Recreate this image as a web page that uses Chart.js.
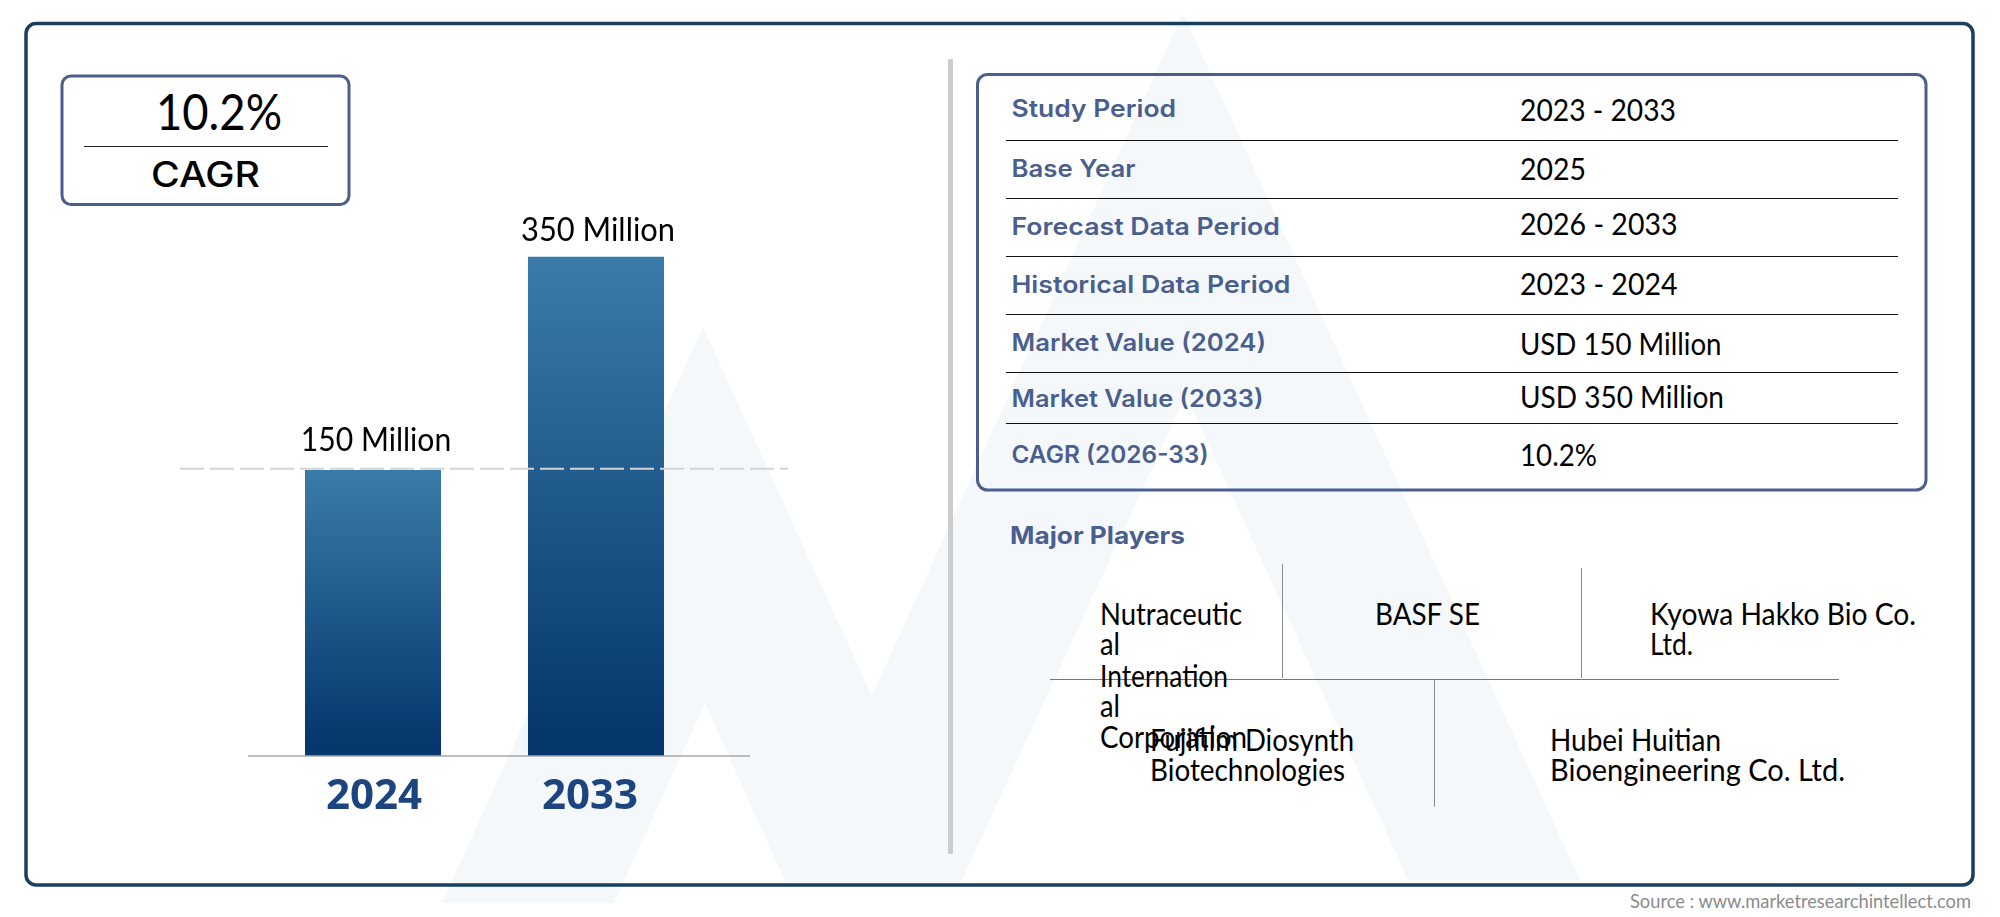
<!DOCTYPE html>
<html><head><meta charset="utf-8">
<script src="https://cdn.jsdelivr.net/npm/chart.js@4/dist/chart.umd.min.js"></script>
<style>
html,body{margin:0;padding:0;background:#fff;overflow:hidden}
#page{position:relative;width:2000px;height:917px}
svg,canvas{position:absolute;left:0;top:0}
</style></head>
<body><div id="page">
<svg id="bg" width="2000" height="917" viewBox="0 0 2000 917" xmlns="http://www.w3.org/2000/svg"></svg>
<canvas id="chart" width="2000" height="917"></canvas>
</div>
<script>
// ---- data ----
const categories = ['2024', '2033'];
const marketValues = [150, 350];
const valueLabels = ['150 Million', '350 Million'];
const cagrValue = '10.2%';
const cagrLabel = 'CAGR';
const tableLabels = ['Study Period','Base Year','Forecast Data Period','Historical Data Period','Market Value (2024)','Market Value (2033)','CAGR (2026-33)'];
const tableValues = ['2023 - 2033','2025','2026 - 2033','2023 - 2024','USD 150 Million','USD 350 Million','10.2%'];
const playersTitle = 'Major Players';
const sourceText = 'Source : www.marketresearchintellect.com';

// ---- layout (pixels) ----
const NS = 'http://www.w3.org/2000/svg';
const svg = document.getElementById('bg');
function el(name, attrs, text){
  const e = document.createElementNS(NS, name);
  for (const k in attrs) e.setAttribute(k, attrs[k]);
  if (text !== undefined) e.textContent = text;
  svg.appendChild(e);
  return e;
}
function label(str, x, y, w, family, size, weight, fill){
  el('text',{x, y, textLength:w, lengthAdjust:'spacingAndGlyphs', 'font-family':family, 'font-size':size, 'font-weight':weight, fill}, str);
}
const BODY = 'Lato, sans-serif', HEAD = 'Inter, sans-serif';
const SLATE = '#4b5f8e', PALE = '#f5f8fb';

// watermark
el('polygon',{points:'703,327 958,884 786,884 705,703 614,903 442,903', fill:PALE});
el('polygon',{points:'1183,13 1580,880 1408,880 1186,395 960,884 786,884', fill:PALE});

// frames
el('rect',{x:26,y:23.5,width:1947,height:861.5,rx:10,fill:'none',stroke:'#1a3f5c','stroke-width':3.5});
el('rect',{x:948,y:59,width:5,height:795,fill:'#cccccc'});
el('rect',{x:62,y:76,width:287,height:128.5,rx:9,fill:'none',stroke:SLATE,'stroke-width':3});
el('line',{x1:84,x2:328,y1:146.5,y2:146.5,stroke:'#222','stroke-width':1});
el('rect',{x:977.5,y:74.5,width:948.5,height:415.5,rx:10,fill:'none',stroke:SLATE,'stroke-width':3});

// CAGR box text
label(cagrValue,156,130,126,BODY,50,400,'#000');
label(cagrLabel,151,186.5,109,HEAD,35,500,'#000');

// table
const rowRules = [140.5,198.5,256.5,314.5,372.5,423.5];
rowRules.forEach(y=>el('line',{x1:1006,x2:1898,y1:y,y2:y,stroke:'#111','stroke-width':1}));
const labelBase = [116.7,176.7,235,292.7,350.7,406.7,463.3];
const labelWidth = [164.5,124,268.5,279,254.5,252,197];
const valueBase = [120.5,180,235.3,294.8,355.3,407.5,465.5];
const valueWidth = [156,66,157.5,157.5,201.5,204,77];
tableLabels.forEach((t,i)=>label(t,1011.5,labelBase[i],labelWidth[i],HEAD,24,600,SLATE));
tableValues.forEach((t,i)=>label(t,1520,valueBase[i],valueWidth[i],BODY,30,400,'#000'));

// major players
label(playersTitle,1010,544,175,HEAD,24,700,SLATE);
[[1282.5,564,678],[1581.5,568,678],[1434.5,679,806.7]].forEach(([x,a,b])=>el('line',{x1:x,x2:x,y1:a,y2:b,stroke:'#8a8a8a','stroke-width':1}));
el('line',{x1:1050,x2:1839,y1:679.5,y2:679.5,stroke:'#777','stroke-width':1});
const playerLines = [
 ['Nutraceutic',1100,625.3,142],['al',1100,655.3,20],['Internation',1100,687,128],['al',1100,717,20],['Corporation',1100,747.7,147],
 ['BASF SE',1375,625.3,105],
 ['Kyowa Hakko Bio Co.',1650,625.3,266],['Ltd.',1650,655.3,43],
 ['Fujifilm Diosynth',1150,751,204],['Biotechnologies',1150,781,195],
 ['Hubei Huitian',1550,751,171],['Bioengineering Co. Ltd.',1550,781,295]
];
playerLines.forEach(([t,x,y,w])=>label(t,x,y,w,BODY,30,400,'#000'));

// source
label(sourceText,1630,908,341,BODY,20,400,'#8c8c8c');

// ---- chart ----
const AXIS_MIN = -118.2, AXIS_MAX = 400;
const tickNudge = [1,-6];
const labelSpec = [{dx:3,w:150.5,y:450.8},{dx:2,w:154,y:240.9}];

const overlay = {
  id:'overlay',
  afterUpdate(chart){
    chart.scales.x.getLabelItems().forEach((it,i)=>{ it.options.translation[0]+=tickNudge[i]; });
  },
  afterDatasetsDraw(chart){
    const {ctx, scales:{x,y}} = chart;
    // axis baseline
    ctx.save();
    ctx.strokeStyle='#a9a9ad'; ctx.lineWidth=1.5;
    ctx.beginPath(); ctx.moveTo(248,y.bottom); ctx.lineTo(750,y.bottom); ctx.stroke();
    // dashed reference line at the 2024 value
    ctx.strokeStyle='#d4d4d6'; ctx.lineWidth=2; ctx.setLineDash([24,6]);
    const ry=y.getPixelForValue(marketValues[0])-1.3;
    ctx.beginPath(); ctx.moveTo(180,ry); ctx.lineTo(788,ry); ctx.stroke();
    ctx.setLineDash([]);
    // value labels
    ctx.font='400 33px Lato, sans-serif'; ctx.fillStyle='#000'; ctx.textBaseline='alphabetic'; ctx.textAlign='left';
    chart.getDatasetMeta(0).data.forEach((bar,i)=>{
      const s=labelSpec[i], m=ctx.measureText(valueLabels[i]).width;
      ctx.save();
      ctx.translate(bar.x+s.dx-s.w/2,s.y);
      ctx.scale(s.w/m,1);
      ctx.fillText(valueLabels[i],0,0);
      ctx.restore();
    });
    ctx.restore();
  }
};

function barGradient(c){
  const chart=c.chart;
  if(!chart.chartArea||c.parsed===undefined) return '#1f5a8a';
  const yS=chart.scales.y;
  const g=chart.ctx.createLinearGradient(0,yS.getPixelForValue(c.parsed.y),0,yS.bottom);
  g.addColorStop(0,'#3a7ca9'); g.addColorStop(0.92,'#07396f'); g.addColorStop(1,'#06376c');
  return g;
}

new Chart(document.getElementById('chart'),{
  type:'bar',
  data:{labels:categories,datasets:[{data:marketValues,base:AXIS_MIN,backgroundColor:barGradient,borderWidth:0,barPercentage:0.61,categoryPercentage:1}]},
  options:{
    responsive:false,animation:false,devicePixelRatio:1,
    layout:{padding:{left:261.5,right:1292.5,top:203.4,bottom:0}},
    plugins:{legend:{display:false},tooltip:{enabled:false},title:{display:false}},
    scales:{
      x:{grid:{display:false},border:{display:false},
         ticks:{color:'#1c4580',padding:8,maxRotation:0,font:{family:'Open Sans',weight:'700',size:42}},
         afterFit(s){s.height=161;}},
      y:{display:false,min:AXIS_MIN,max:AXIS_MAX}
    }
  },
  plugins:[overlay]
});
</script>
</body></html>
